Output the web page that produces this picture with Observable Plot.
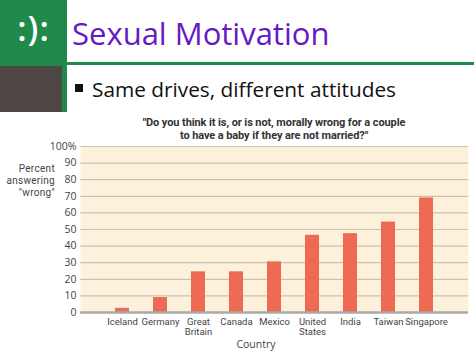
<!DOCTYPE html>
<html><head><meta charset="utf-8">
<script src="https://cdn.jsdelivr.net/npm/d3@7"></script>
<script src="https://cdn.jsdelivr.net/npm/@observablehq/plot@0.6"></script>
<style>
html,body{margin:0;padding:0;background:#fff;}
#slide{position:relative;width:474px;height:355px;overflow:hidden;font-family:"Open Sans",sans-serif;}
.abs{position:absolute;}
</style></head>
<body>
<div id="slide">
  <div class="abs" style="left:0;top:0;width:67px;height:112px;background:#1f8a4c"></div>
  <div class="abs" style="left:0;top:66px;width:62px;height:46px;background:#4e4744"></div>
  <div class="abs" style="left:67px;top:62px;width:407px;height:3px;background:#1f8a4c"></div>
  <div class="abs" style="left:0;top:8px;width:67px;text-align:center;color:#fff;font-family:'Open Sans',sans-serif;font-size:34px;font-weight:600;line-height:40px;letter-spacing:1px">:):</div>
  <div class="abs" style="left:72px;top:12px;color:#6619c4;font-family:'Open Sans',sans-serif;font-size:31px;line-height:42px;white-space:nowrap">Sexual Motivation</div>
  <div class="abs" style="left:75px;top:84px;width:8px;height:8px;background:#111"></div>
  <div class="abs" style="left:92px;top:74px;color:#111;font-family:'Open Sans',sans-serif;font-size:20.8px;line-height:30px;white-space:nowrap">Same drives, different attitudes</div>
  <div id="chart" class="abs" style="left:0;top:100px"></div>
  <div class="abs" style="left:74px;top:116px;width:400px;text-align:center;color:#333;font-family:Roboto,sans-serif;font-weight:700;font-size:11px;line-height:13px;letter-spacing:-0.1px">"Do you think it is, or is not, morally wrong for a couple<br>to have a baby if they are not married?"</div>
  <div class="abs" style="left:0;top:163px;width:55px;text-align:right;color:#444;font-family:Roboto,sans-serif;font-size:10px;line-height:12.2px;letter-spacing:0.3px">Percent<br>answering<br>"wrong"</div>
  <div class="abs" style="left:206px;top:337px;width:100px;text-align:center;color:#444;font-family:'Open Sans',sans-serif;font-size:10.5px;line-height:14px">Country</div>
</div>
<script>
const countries = ["Iceland","Germany","Great Britain","Canada","Mexico","United States","India","Taiwan","Singapore"];
const countryLabels = ["Iceland","Germany","Great\nBritain","Canada","Mexico","United\nStates","India","Taiwan","Singapore"];
const percentWrong = [2.5, 9, 24.5, 24.5, 30.5, 46.5, 47.5, 54.5, 69];
const yTicks = [0,10,20,30,40,50,60,70,80,90,100];
const yTickLabels = ["0","10","20","30","40","50","60","70","80","90","100%"];

const data = countries.map((c,i)=>({country:c, value:percentWrong[i]}));
const labelOf = new Map(countries.map((c,i)=>[c,countryLabels[i]]));

const chart = Plot.plot({
  width: 474,
  height: 255,
  marginLeft: 80,
  marginRight: 6,
  marginTop: 46,
  marginBottom: 43,
  style: {fontFamily: "'Open Sans',sans-serif", fontSize: "10.5px", color: "#444", background: "transparent"},
  x: {domain: countries, paddingInner: 0.64, paddingOuter: 0.82, label: null},
  y: {domain: [0,100], label: null},
  marks: [
    Plot.frame({fill: "#fdf1dc", stroke: null}),
    Plot.ruleY(yTicks.filter(d=>d>0), {stroke: "#c9c2b8", strokeWidth: 1.2}),
    Plot.barY(data, {x: "country", y: "value", fill: "#ef6a52"}),
    Plot.ruleX([0], {frameAnchor: "left", stroke: "#aaa", strokeWidth: 1.5, y1: 0, y2: 100}),
    Plot.ruleY([0], {stroke: "#aaa", strokeWidth: 2.5}),
    Plot.axisY(yTicks, {tickSize: 0, tickPadding: 4, tickFormat: (d,i)=>yTickLabels[i], fill: "#444", fontSize: 10.5}),
    Plot.axisX({tickSize: 0, tickPadding: 5, tickFormat: d=>labelOf.get(d), fill: "#444", fontSize: 9.5, fontFamily: "Roboto, sans-serif", lineHeight: 1.1})
  ]
});
document.getElementById("chart").appendChild(chart);
</script>
</body></html>
